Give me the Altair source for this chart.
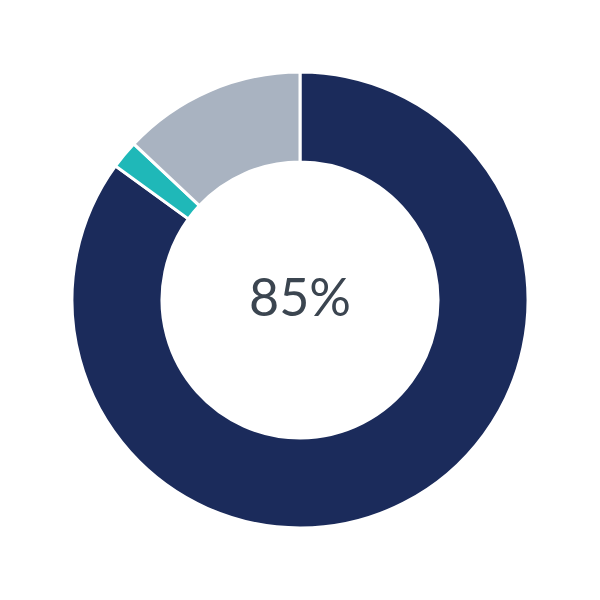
import altair as alt
import pandas as pd

categories = ["Primary", "Secondary", "Other"]
values = [85, 2, 13]
colors = ["#1b2b5b", "#1fb8b8", "#a9b3c1"]
center_label = "85%"

df = pd.DataFrame({"category": categories, "value": values, "order": list(range(len(categories)))})

arcs = alt.Chart(df).mark_arc(
    innerRadius=138, outerRadius=228, stroke="white", strokeWidth=3
).encode(
    theta=alt.Theta("value:Q", stack=True),
    color=alt.Color("category:N", scale=alt.Scale(domain=categories, range=colors), legend=None),
    order=alt.Order("order:Q"),
)

label = alt.Chart(pd.DataFrame({"label": [center_label]})).mark_text(
    font="Lato", fontSize=52, color="#3b4550", baseline="middle", align="center"
).encode(
    text="label:N",
    x=alt.value(292),
    y=alt.value(292),
)

chart = alt.layer(arcs, label).properties(
    width=584, height=584, padding=0, autosize=alt.AutoSizeParams(type="none")
).configure_view(stroke=None)

chart.save("out.html", embed_options={"renderer": "svg", "actions": False})
